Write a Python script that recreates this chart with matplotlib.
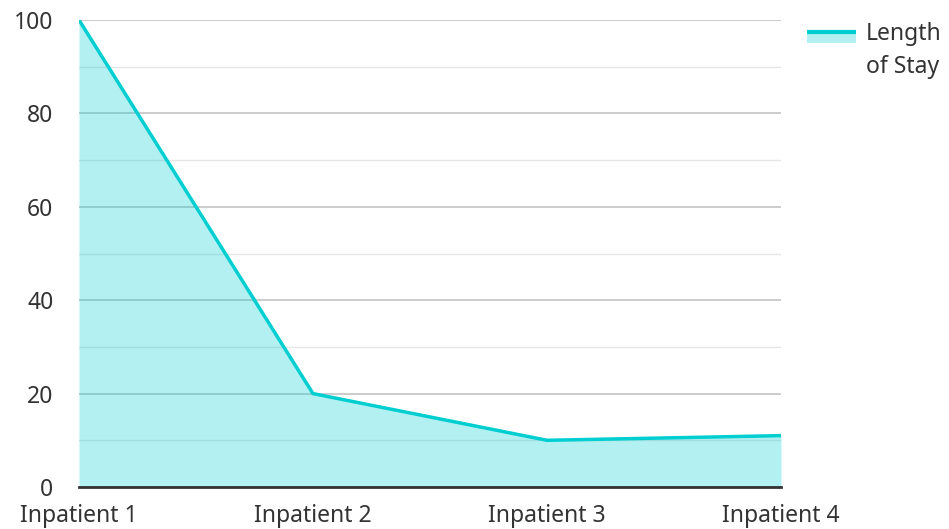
import matplotlib
matplotlib.use("Agg")
import matplotlib.pyplot as plt
from matplotlib.patches import Rectangle
from matplotlib.lines import Line2D

categories = ["Inpatient 1", "Inpatient 2", "Inpatient 3", "Inpatient 4"]
values = [100, 20, 10, 11]
series_name_lines = ["Length", "of Stay"]

plt.rcParams['font.family'] = ['Noto Sans', 'DejaVu Sans']

W, H = 949, 529
fig = plt.figure(figsize=(W/100, H/100), dpi=100)
ax = fig.add_axes([79/W, 42/H, (781-79)/W, (487-20)/H])

line_color = "#00CED1"
text_color = "#333333"
fs = 16.5
x = list(range(len(categories)))
ax.fill_between(x, values, 0, color=line_color, alpha=0.3, linewidth=0, zorder=2)
ax.plot(x, values, color=line_color, linewidth=2.5, zorder=3)

ax.set_xlim(0, len(categories) - 1)
ax.set_ylim(0, 100)
ax.set_yticks([0, 20, 40, 60, 80, 100])
ax.set_yticks([10, 30, 50, 70, 90], minor=True)
ax.set_xticks(x)
ax.set_xticklabels(categories)
ax.grid(axis='y', which='major', color='#c8c8c8', linewidth=1.3, zorder=1)
ax.grid(axis='y', which='minor', color='#e6e6e6', linewidth=1.0, zorder=1)
ax.set_axisbelow(True)
ax.tick_params(axis='both', which='both', length=0, labelsize=fs, colors=text_color)
ax.tick_params(axis='y', pad=18.5)
ax.tick_params(axis='x', pad=12.5)
for s in ['top', 'right', 'left']:
    ax.spines[s].set_visible(False)
ax.spines['bottom'].set_color(text_color)
ax.spines['bottom'].set_linewidth(2)
ax.spines['bottom'].set_zorder(4)

# legend (drawn in figure pixel coordinates)
fig.patches.append(Rectangle((807/W, 1 - 43/H), 49/W, 12/H, transform=fig.transFigure,
                             facecolor=line_color, alpha=0.3, edgecolor='none'))
fig.lines.append(Line2D([807/W, 856/W], [1 - 32/H, 1 - 32/H], transform=fig.transFigure,
                        color=line_color, linewidth=3, solid_capstyle='butt'))
fig.text(866/W, 1 - 40/H, series_name_lines[0], fontsize=fs, color=text_color,
         ha='left', va='baseline')
fig.text(866/W, 1 - 73/H, series_name_lines[1], fontsize=fs, color=text_color,
         ha='left', va='baseline')

fig.savefig("out.png", dpi=100)
